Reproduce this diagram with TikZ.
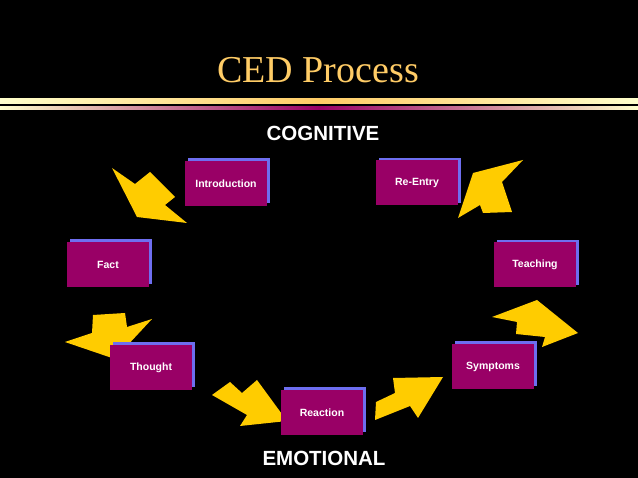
\documentclass[tikz,border=0pt]{standalone}
\usepackage{fontspec}
\setmainfont{Liberation Serif}
\setsansfont{Liberation Sans}
\usetikzlibrary{shadows}
\definecolor{boxmag}{HTML}{990066}
\definecolor{shadowblue}{HTML}{6E6EF0}
\definecolor{gold}{HTML}{FFCC00}
\definecolor{titlecol}{HTML}{FFCC66}
\definecolor{cream}{HTML}{FFFFCC}
\begin{document}
\begin{tikzpicture}[x=1pt,y=-1pt,
  procbox/.style={fill=boxmag, minimum width=82pt, minimum height=45pt, inner sep=0pt,
    text=white, font=\sffamily\bfseries\fontsize{10.5}{12}\selectfont,
    general shadow={fill=shadowblue, shadow xshift=2.8pt, shadow yshift=2.5pt}},
  blockarrow/.style={fill=gold, draw=none},
  heading/.style={text=white, font=\sffamily\bfseries\fontsize{20.5}{24}\selectfont}]
\fill[black] (0,0) rectangle (638,478);
\useasboundingbox (0,0) rectangle (638,478);
% title
\node[text=titlecol, font=\fontsize{38}{44}\selectfont] (title) at (318,70) {CED Process};
% rules
\shade[left color=cream, right color=cream, middle color=titlecol, shading=axis] (0,98.5) rectangle (638,104);
\shade[left color=cream, right color=cream, middle color=boxmag, shading=axis] (0,106.5) rectangle (638,109.5);
% headings
\node[heading] (cog) at (323,133) {COGNITIVE};
\node[heading] (emo) at (324,458) {EMOTIONAL};
% arrows
\fill[blockarrow] (112,168) -- (135,184) -- (150,172) -- (175,197) -- (165,205) -- (187,223) -- (137,217) -- cycle;
\fill[blockarrow] (523,160) -- (502,182) -- (512,212) -- (483,213) -- (480,205) -- (458,218) -- (473,173) -- cycle;
\fill[blockarrow] (65,342) -- (92,333) -- (93,315) -- (125,313) -- (127,327) -- (152,319) -- (125,348) -- (112,358) -- cycle;
\fill[blockarrow] (212,395) -- (230,382) -- (242,393) -- (257,380) -- (287,421) -- (240,426) -- (247,415) -- cycle;
\fill[blockarrow] (375,420) -- (376,402) -- (395,393) -- (393,378) -- (443,377) -- (418,418) -- (410,406) -- cycle;
\fill[blockarrow] (492,317) -- (537,300) -- (578,333) -- (542,347) -- (545,337) -- (516,334) -- (517,322) -- cycle;
% boxes
\node[procbox] (intro) at (226,183.5) {Introduction};
\node[procbox] (reentry) at (417,183) {Re-Entry};
\node[procbox] (fact) at (108,264.5) {Fact};
\node[procbox] (thought) at (151,367.5) {Thought};
\node[procbox] (reaction) at (322,412.5) {Reaction};
\node[procbox] (symptoms) at (493,366.5) {Symptoms};
\node[procbox] (teaching) at (535,265) {Teaching};
\end{tikzpicture}
\end{document}
